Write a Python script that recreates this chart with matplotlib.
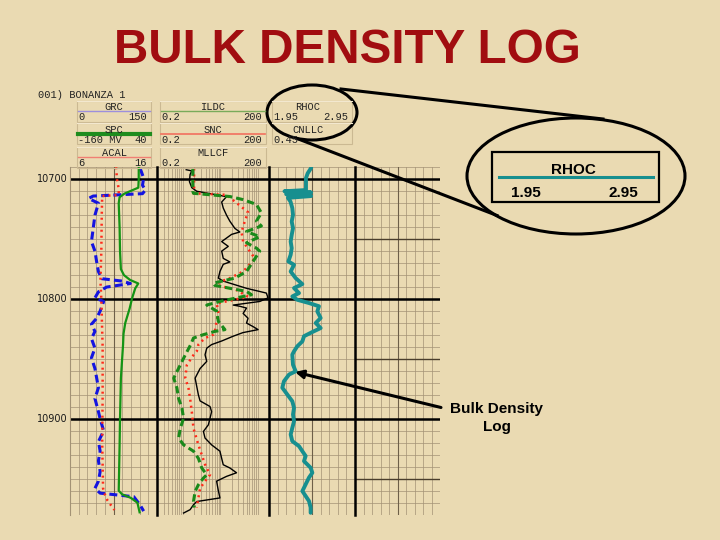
import matplotlib
matplotlib.use("Agg")
import matplotlib.pyplot as plt
from matplotlib.patches import Ellipse, Rectangle
import numpy as np

W, H = 720, 540
TOP, BOT = 10689.75, 10980.25

# ---- log curves (depth in ft) ----
gr_depth = [10691, 10699, 10705, 10709, 10712, 10714, 10716, 10720, 10730, 10741,
            10752, 10760, 10769, 10777, 10783, 10785, 10787, 10790, 10794, 10799,
            10802, 10810, 10816, 10821, 10827, 10833, 10841, 10849, 10858, 10866,
            10874, 10883, 10894, 10900, 10910, 10919, 10927, 10935, 10944, 10952,
            10958, 10962, 10965, 10972, 10977]
gr = [121, 127, 125, 130, 125, 40, 32, 49, 43, 40,
      37, 43, 46, 49, 55, 90, 104, 63, 49, 43,
      58, 52, 46, 37, 43, 37, 43, 37, 43, 46,
      49, 43, 49, 52, 58, 49, 52, 49, 52, 49,
      43, 52, 110, 121, 127]

sp_depth = [10690, 10700, 10707, 10712, 10715, 10720, 10740, 10760, 10775, 10780,
            10784, 10787, 10791, 10799, 10808, 10820, 10829, 10838, 10866, 10900,
            10922, 10960, 10963, 10966, 10970, 10978]
sp = [-2, -2, -3, -35, -46, -48, -46, -45, -43, -36,
      -22, -3, -10, -17, -23, -33, -37, -38, -43, -45,
      -46, -48, -40, -20, -5, 0]

cal_depth = [10690, 10700, 10708, 10713, 10714, 10730, 10760, 10785, 10800, 10840,
             10880, 10920, 10958, 10963, 10968, 10972, 10976]
cal = [11.3, 11.4, 11.6, 11.6, 9.7, 9.65, 9.6, 9.5, 9.6, 9.75,
       9.75, 9.7, 9.8, 10.0, 10.3, 10.7, 11.1]

mllcf_depth = [10692, 10693, 10696, 10702, 10707, 10710, 10712.5, 10714.5, 10719, 10724,
               10730, 10735, 10741, 10744, 10746, 10752, 10756, 10760, 10766, 10769,
               10771, 10777, 10782.5, 10785, 10791, 10795, 10799, 10802, 10805, 10806,
               10807.5, 10812, 10816, 10820, 10823, 10825.5, 10828, 10831, 10835, 10838,
               10841, 10846.5, 10852, 10858, 10866, 10880, 10885, 10889.7, 10894, 10899.5,
               10905, 10910.5, 10916, 10921.7, 10927, 10933, 10938.3, 10941, 10945, 10948,
               10952, 10960, 10966, 10969, 10971.7, 10975.8, 10978.6]
mllcf = [1.21, 1.71, 1.54, 1.48, 1.71, 2.32, 6.5, 14.6, 10.8, 11.9,
         14.6, 17.9, 24.4, 33.1, 19.9, 10.8, 16.2, 10.8, 11.9, 17.9,
         11.9, 9.7, 8.8, 11.9, 49.8, 170, 188, 113, 22, 33,
         50, 40.6, 55, 50, 75, 102, 40, 22, 10.8, 5.8,
         4.3, 3.87, 4.3, 2.85, 2.1, 2.57, 2.85, 5.26, 5.8, 5.26,
         4.75, 3.5, 3.87, 5.8, 9.7, 10.8, 11.9, 17.9, 27, 14.6,
         7.9, 8.8, 9.7, 2.32, 1.9, 1.54, 1.03]

ildc_depth = [10691, 10710, 10711.7, 10714.4, 10717, 10721, 10728, 10735, 10739, 10743.6,
              10748, 10753, 10757.5, 10760, 10768.6, 10777, 10782.5, 10786.7, 10788.6, 10791,
              10793.6, 10796.4, 10799, 10802, 10805, 10810, 10818.6, 10825.5, 10827, 10829.7,
              10832.5, 10838, 10846.7, 10855, 10866, 10874, 10883, 10891, 10899.5, 10908,
              10916, 10921.7, 10927, 10933, 10941, 10946.7, 10949.4, 10955, 10960.5, 10969,
              10974]
ildc = [1.82, 1.82, 1.9, 17.9, 40.6, 92, 125, 92, 125, 50,
        113, 50, 92, 113, 75, 50, 24.4, 6.46, 7.1, 17.9,
        50, 68, 27, 9.7, 4.3, 7.9, 8.8, 13.2, 7.1, 3.5,
        1.9, 1.6, 1.14, 0.84, 0.56, 0.68, 0.76, 0.93, 1.03, 0.84,
        0.76, 1.03, 1.9, 2.57, 3.16, 4.3, 3.5, 2.57, 2.1, 1.9,
        2.0]

snc_depth = [10691, 10710, 10711.7, 10713, 10727.5, 10735, 10744, 10752, 10760, 10766,
             10771, 10777, 10782.5, 10786.7, 10788.6, 10792.5, 10798, 10800.8, 10803.6, 10810.5,
             10818.6, 10827, 10829.7, 10832.5, 10838, 10843.6, 10846.7, 10855, 10866, 10874,
             10883, 10894, 10908, 10921.7, 10930, 10938, 10946.7, 10952, 10958, 10966,
             10974]
snc = [1.97, 1.97, 1.9, 14.6, 55, 45, 36.7, 40.6, 61, 83,
       61, 40.6, 17.9, 7.9, 8.8, 27, 55, 22, 7.9, 8.8,
       7.9, 7.1, 6.46, 3.87, 2.57, 2.32, 1.9, 1.26, 1.14, 1.39,
       1.54, 1.71, 1.9, 2.57, 3.16, 3.87, 5.26, 3.87, 2.85, 2.57,
       2.32]

rhoc_depth = [10690.5, 10695, 10699, 10706, 10709, 10710, 10711, 10712.5, 10714, 10715.5,
              10718.6, 10724, 10729.7, 10735.3, 10740.8, 10746.4, 10752, 10757.5, 10763, 10768.6,
              10771.4, 10777, 10782.5, 10787.5, 10790.8, 10795, 10797.8, 10800.6, 10803.3, 10806,
              10810.3, 10815.8, 10820, 10824.2, 10827.5, 10831, 10835.3, 10839.4, 10843.6, 10846.4,
              10854.8, 10860.3, 10863, 10868.6, 10874, 10879.7, 10885.3, 10890.8, 10896.4, 10902,
              10907.5, 10913, 10918.6, 10922.8, 10927, 10931, 10935.3, 10940.8, 10945, 10949,
              10954.7, 10960.3, 10964.4, 10968.6, 10974, 10978.4]
rhoc = [2.44, 2.40, 2.38, 2.38, 2.38, 2.13, 2.44, 2.15, 2.44, 2.17,
        2.20, 2.221, 2.229, 2.214, 2.229, 2.214, 2.202, 2.214, 2.202, 2.175,
        2.241, 2.202, 2.26, 2.338, 2.241, 2.299, 2.221, 2.279, 2.415, 2.531,
        2.512, 2.551, 2.493, 2.551, 2.454, 2.357, 2.338, 2.279, 2.241, 2.221,
        2.229, 2.26, 2.183, 2.124, 2.105, 2.163, 2.221, 2.241, 2.229, 2.241,
        2.221, 2.202, 2.221, 2.299, 2.338, 2.376, 2.357, 2.434, 2.454, 2.415,
        2.376, 2.338, 2.376, 2.415, 2.434, 2.434]

depth_labels = [10700, 10800, 10900]

# header entries: column, row, name, left scale, right scale
hdr_col = [0, 0, 0, 1, 1, 1, 2, 2]
hdr_row = [0, 1, 2, 0, 1, 2, 0, 1]
hdr_name = ["GRC", "SPC", "ACAL", "ILDC", "SNC", "MLLCF", "RHOC", "CNLLC"]
hdr_left = ["0", "-160 MV", "6", "0.2", "0.2", "0.2", "1.95", "0.45"]
hdr_right = ["150", "40", "16", "200", "200", "200", "2.95", ""]
hdr_color = ["#9d8fdc", "#1e8c1e", "#f07f74", "#7aab5a", "#f2705e", None, None, None]
hdr_lw = [1.0, 3.0, 1.0, 1.0, 1.2, 0, 0, 0]

BG = "#eadab2"
GRID = "#a39275"
MID = "#6e5f48"

fig = plt.figure(figsize=(7.2, 5.4), dpi=100)
fig.patch.set_facecolor(BG)


def px_axes(x0, y0, x1, y1):
    return fig.add_axes([x0 / W, 1 - y1 / H, (x1 - x0) / W, (y1 - y0) / H])


def setup_track(ax, lo, hi, log=False, half_lines=False):
    if log:
        ax.set_xscale("log")
        vals = [k * 10.0 ** e for e in range(-1, 3) for k in range(1, 10)]
        vals = [v for v in vals if lo * 0.999 <= v <= hi * 1.001]
    else:
        vals = list(np.linspace(lo, hi, 11))
    ax.set_xlim(lo, hi)
    ax.set_ylim(BOT, TOP)
    ax.axis("off")
    for i, v in enumerate(vals):
        if not log and i == 5:
            ax.axvline(v, color=MID, lw=0.8, zorder=1.2)
        else:
            ax.axvline(v, color=GRID, lw=0.5, zorder=1)
    for d in range(10690, 10981, 10):
        if d % 100 == 0:
            ax.axhline(d, color="black", lw=1.8, zorder=2)
        elif d % 50 == 0 and half_lines:
            ax.axhline(d, color="#4a3d2c", lw=1.0, zorder=1.5)
        else:
            ax.axhline(d, color=GRID, lw=0.5, zorder=1)


# track 1: GR / SP / caliper
ax1 = px_axes(70, 167, 157, 515)
setup_track(ax1, 0, 150)
ax1_sp = ax1.twiny()
ax1_sp.set_xlim(-160, 40)
ax1_sp.axis("off")
ax1_cal = ax1.twiny()
ax1_cal.set_xlim(6, 16)
ax1_cal.axis("off")
ax1_cal.plot(cal, cal_depth, color="#ff2a1a", lw=1.8, ls=(0, (0.8, 1.6)), zorder=3)
ax1_sp.plot(sp, sp_depth, color="#149414", lw=1.6, zorder=3)
ax1.plot(gr, gr_depth, color="#1414e0", lw=2.2, ls=(0, (2.6, 1.4)), zorder=4)
for d in depth_labels:
    ax1.text(-0.025, d, str(d), transform=ax1.get_yaxis_transform(),
             ha="right", va="center", fontsize=7, color="#1a1a1a")

# track 2: resistivity (log)
ax2 = px_axes(157, 167, 269, 515)
setup_track(ax2, 0.2, 200, log=True)
ax2.plot(mllcf, mllcf_depth, color="black", lw=1.0, zorder=3)
ax2.plot(snc, snc_depth, color="#ff2a1a", lw=1.8, ls=(0, (0.8, 1.6)), zorder=4)
ax2.plot(ildc, ildc_depth, color="#1a8a1a", lw=2.2, ls=(0, (2.4, 1.3)), zorder=5)

# track 3: bulk density
ax3 = px_axes(269, 167, 355, 515)
setup_track(ax3, 1.95, 2.95)
ax3.plot(rhoc, rhoc_depth, color="#178f8f", lw=2.8, zorder=4,
         solid_capstyle="round", solid_joinstyle="round")

# track 4: empty grid
ax4 = px_axes(355, 167, 440, 515)
setup_track(ax4, 0, 1, half_lines=True)

# ---- overlay in pixel coordinates ----
ax = fig.add_axes([0, 0, 1, 1], zorder=10)
ax.set_xlim(0, W)
ax.set_ylim(H, 0)
ax.axis("off")
ax.patch.set_alpha(0)

for x in [157, 269, 355]:
    ax.plot([x, x], [167, 515], color="black", lw=1.8)
ax.plot([70, 70], [167, 515], color=GRID, lw=0.8)

ax.text(347.5, 63.3, "BULK DENSITY LOG", ha="center", va="baseline",
        fontsize=34.3, fontweight="bold", family="Liberation Sans", color="#a10d10")

mono = dict(family="Liberation Mono", fontsize=7.5, color="#222222")
ax.text(38, 98.5, "001) BONANZA 1", ha="left", va="baseline", **mono)

col_x = [(77, 151), (160, 266), (272, 352)]
row_y = [100.5, 123.3, 146.5]
for i, name in enumerate(hdr_name):
    x0, x1 = col_x[hdr_col[i]]
    y0 = row_y[hdr_row[i]]
    ax.add_patch(Rectangle((x0, y0), x1 - x0, 21, fill=False, ec="#cbb992", lw=0.8))
    ax.plot([x0, x1], [y0, y0], color="#f3e8cf", lw=0.8)
    cx = (x0 + x1) / 2 if hdr_col[i] < 2 else 308
    ax.text(cx, y0 + 10, name, ha="center", va="baseline", **mono)
    if hdr_color[i]:
        ax.plot([x0 + 1, x1 - 1], [y0 + 10.8, y0 + 10.8], color=hdr_color[i], lw=hdr_lw[i])
    ax.text(x0 + 1.5, y0 + 19.5, hdr_left[i], ha="left", va="baseline", **mono)
    ax.text(x1 - 4, y0 + 19.5, hdr_right[i], ha="right", va="baseline", **mono)

# callout
ax.add_patch(Ellipse((312, 112.5), 90, 55, fill=False, ec="black", lw=2.2))
ax.add_patch(Ellipse((576, 176), 218, 116, fill=False, ec="black", lw=2.2))
ax.plot([341, 603], [89, 119], color="black", lw=2.2)
ax.plot([297, 497], [138.5, 215.5], color="black", lw=2.2)
ax.add_patch(Rectangle((491.7, 151.7), 167.6, 50, fill=False, ec="black", lw=1.6))
bold = dict(fontsize=11, fontweight="bold", family="Liberation Sans", color="black")
ax.text(573.3, 174, "RHOC", ha="center", va="baseline", **bold)
ax.plot([499.3, 652.7], [177.3, 177.3], color="#178f8f", lw=2.2)
ax.text(525.8, 197, "1.95", ha="center", va="baseline", **bold)
ax.text(623.3, 197, "2.95", ha="center", va="baseline", **bold)

# arrow + label
ax.annotate("", xy=(295, 372), xytext=(441, 407.5),
            arrowprops=dict(arrowstyle="-|>", lw=2.2, color="black", mutation_scale=12,
                            shrinkA=0, shrinkB=0))
ax.text(497, 412.7, "Bulk Density", ha="center", va="baseline", **bold)
ax.text(497, 431.5, "Log", ha="center", va="baseline", **bold)

fig.savefig("out.png", dpi=100, facecolor=fig.get_facecolor())
